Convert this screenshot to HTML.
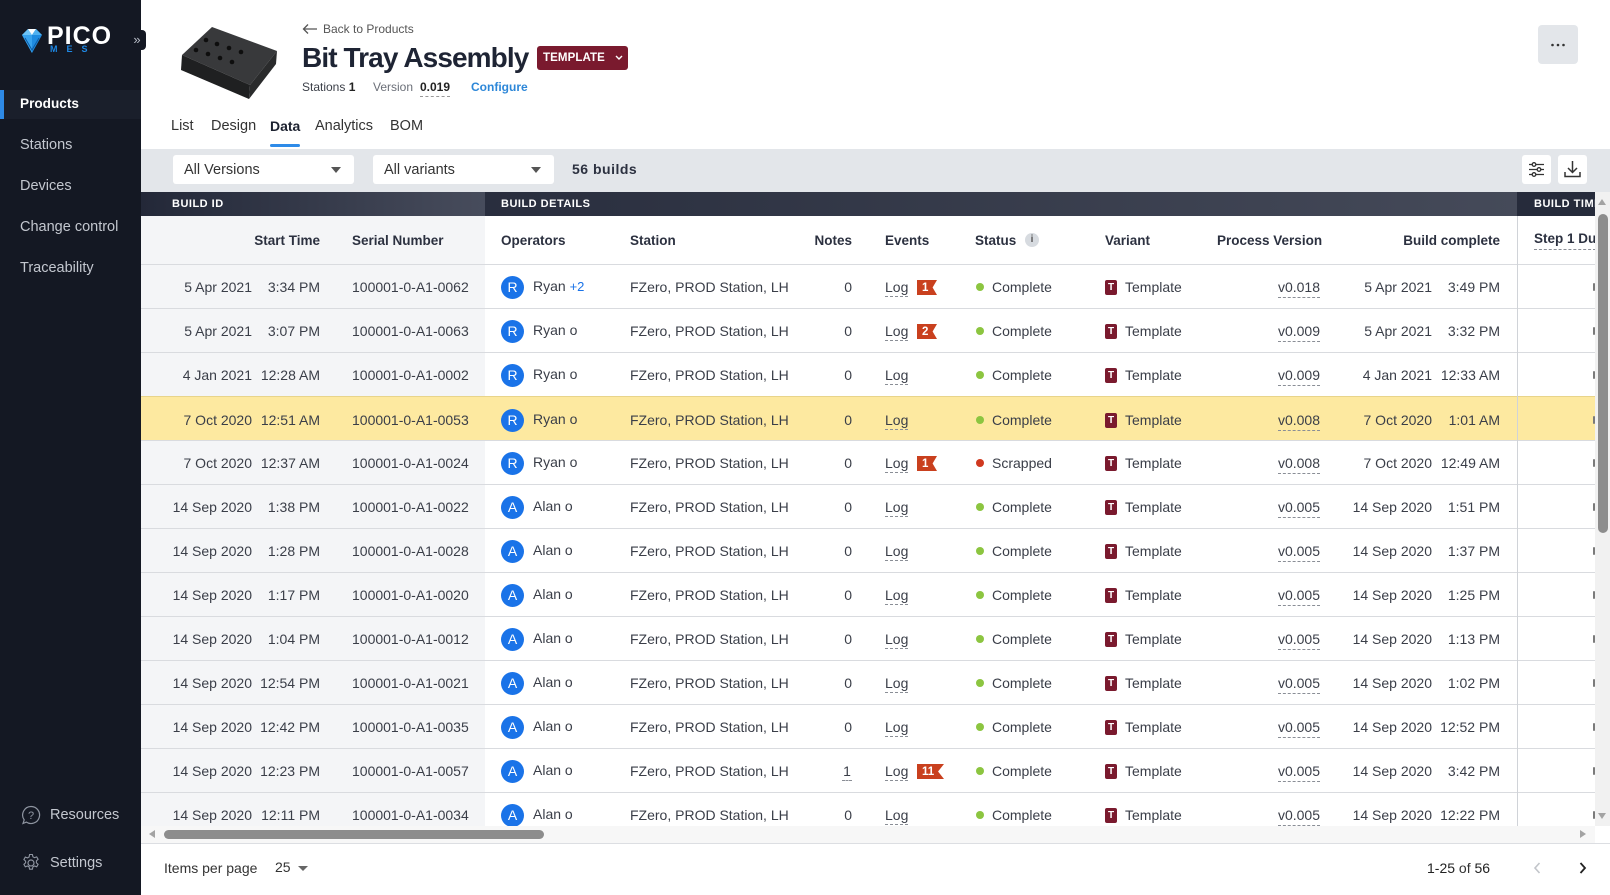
<!DOCTYPE html>
<html><head><meta charset="utf-8">
<style>
*{margin:0;padding:0;box-sizing:border-box}
body{width:1610px;height:895px;overflow:hidden;background:#fff;font-family:"Liberation Sans",Arial,sans-serif;color:#3a3e48;position:relative}
.abs{position:absolute;white-space:nowrap}
#side{position:absolute;left:0;top:0;width:141px;height:895px;background:#141823}
.nav{position:absolute;left:20px;font-size:14.5px;color:#c3c7cf;line-height:20px}
#tbl{position:absolute;left:141px;top:216px;width:1454px;height:610px;overflow:hidden;background:#fff}
.hd{position:absolute;top:0;line-height:49px;font-size:13.5px;font-weight:bold;color:#2c3140;white-space:nowrap}
.r{position:absolute;left:0;width:1454px;height:44px;border-bottom:1px solid #d9dbdf;font-size:14px}
.r>div{position:absolute;top:0;line-height:44px;white-space:nowrap}
.d1{left:0;width:111px;text-align:right}
.t1{left:111px;width:68px;text-align:right}
.sn{left:211px}
.r>.av{left:360px;top:10.5px;width:23px;height:23px;border-radius:50%;background:#1a73e8;color:#fff;font-size:14px;line-height:23px;text-align:center}
.op{left:392px;margin-top:-1px}
.st{left:489px}
.nt{left:661px;width:50px;text-align:right}
.r>.lg{left:744px;top:14px;line-height:16px;padding-bottom:1px;border-bottom:1px dashed #8a8e96}
.r>.bd{left:776px;top:15px;height:15px;width:20px;background:#c9401e;color:#fff;font-size:11.5px;font-weight:bold;line-height:16px;padding-left:5px;clip-path:polygon(0 0,100% 0,78% 50%,100% 100%,0 100%)}
.r>.sd{left:835px;top:18px;width:8px;height:8px;border-radius:50%;background:#8cc540}
.sx{left:851px}
.r>.vi{left:964px;top:14.5px;width:12px;height:15px;border-radius:2px;background:#7a1a2e;color:#fff;font-size:10px;font-weight:bold;line-height:15px;text-align:center}
.vt{left:984px}
.r>.pv{left:1109px;width:70px;top:14px;line-height:16px;text-align:right}
.pv span{border-bottom:1px dashed #8a8e96;padding-bottom:2px;display:inline-block;line-height:16px}
.d2{left:1191px;width:100px;text-align:right}
.t2{left:1291px;width:68px;text-align:right}
.r>.sl{left:1452px;top:18px;width:2px;height:8px;background:#7a7a7a;line-height:8px;border-radius:1px}
.hl{background:#fde9a0;border-top:1px solid #e8d48a}
</style></head><body>

<!-- Sidebar -->
<div id="side">
  <svg class="abs" style="left:20px;top:26px" width="24" height="28" viewBox="0 0 24 28">
    <polygon points="2,9 8,3 16,3 22,9 12,27" fill="#1f8be0"/>
    <polygon points="2,9 8,3 12,9" fill="#6cc4f7"/>
    <polygon points="8,3 16,3 12,9" fill="#fff"/>
    <polygon points="16,3 22,9 12,9" fill="#4fb0ef"/>
    <polygon points="2,9 12,9 12,27" fill="#38a3ee"/>
    <polyline points="5,12 12,24 19,12" fill="none" stroke="#0d5aa3" stroke-width="1"/>
  </svg>
  <div class="abs" style="left:47px;top:22px;font-size:25px;font-weight:bold;color:#fff;line-height:28px;letter-spacing:1px">PICO</div>
  <div class="abs" style="left:50px;top:45px;font-size:9px;font-weight:bold;color:#1e88e5;letter-spacing:9px;line-height:9px">MES</div>
  <div class="abs" style="left:0;top:90px;width:141px;height:29px;background:#1a1f2b"></div>
  <div class="abs" style="left:0;top:90px;width:4px;height:29px;background:#2e8ae6"></div>
  <div class="nav" style="top:94px;color:#fff;font-weight:bold;font-size:13.6px">Products</div>
  <div class="nav" style="top:135px">Stations</div>
  <div class="nav" style="top:176px">Devices</div>
  <div class="nav" style="top:217px">Change control</div>
  <div class="nav" style="top:258px">Traceability</div>
  <svg class="abs" style="left:21px;top:805px" width="20" height="20" viewBox="0 0 20 20"><path d="M10 1.5a8.5 8.5 0 1 1-4.6 15.6L2 18.5l1.2-3.6A8.5 8.5 0 0 1 10 1.5z" fill="none" stroke="#8f95a1" stroke-width="1.2"/><text x="10" y="14" font-size="11" text-anchor="middle" fill="#8f95a1" font-family="Liberation Sans">?</text></svg>
  <div class="nav" style="left:50px;top:805px">Resources</div>
  <svg class="abs" style="left:21px;top:853px" width="20" height="20" viewBox="0 0 20 20"><circle cx="10" cy="10" r="3" fill="none" stroke="#8f95a1" stroke-width="1.2"/><path d="M8.6 1.5h2.8l.5 2.3 1.6.9 2.2-.8 1.4 2.4-1.7 1.6v1.9l1.7 1.6-1.4 2.4-2.2-.8-1.6.9-.5 2.3H8.6l-.5-2.3-1.6-.9-2.2.8-1.4-2.4 1.7-1.6V8.1L2.9 6.5l1.4-2.4 2.2.8 1.6-.9z" fill="none" stroke="#8f95a1" stroke-width="1.1"/></svg>
  <div class="nav" style="left:50px;top:853px">Settings</div>
</div>
<div class="abs" style="left:128px;top:30px;width:18px;height:20px;background:#141823;border-radius:0 4px 4px 0;color:#b9bec8;font-size:13px;line-height:19px;text-align:center">»</div>

<!-- Header -->
<svg class="abs" style="left:176px;top:22px" width="106" height="82" viewBox="176 22 106 82">
  <polygon points="182,55 212,27 277,51 250,85" fill="#38393b"/>
  <polygon points="182,55 250,85 249,99 181,70" fill="#1f2021"/>
  <polygon points="250,85 277,51 276,64 249,99" fill="#2a2b2c"/>
  <g fill="#0e0e0e">
    <circle cx="206" cy="40" r="2.3"/><circle cx="217" cy="44" r="2.3"/><circle cx="229" cy="48" r="2.3"/><circle cx="241" cy="52" r="2.3"/>
    <circle cx="196" cy="50" r="2.3"/><circle cx="208" cy="54" r="2.3"/><circle cx="220" cy="58" r="2.3"/><circle cx="232" cy="62" r="2.3"/>
  </g>
</svg>
<svg class="abs" style="left:302px;top:23px" width="16" height="12" viewBox="0 0 16 12"><path d="M15 6H2M6 1.5 1.5 6 6 10.5" fill="none" stroke="#555" stroke-width="1.3"/></svg>
<div class="abs" style="left:323px;top:22px;font-size:12px;color:#555;line-height:14px">Back to Products</div>
<div class="abs" style="left:302px;top:41px;font-size:28px;font-weight:bold;color:#1e2434;letter-spacing:-0.9px;line-height:34px">Bit Tray Assembly</div>
<div class="abs" style="left:537px;top:46px;width:91px;height:24px;background:#7a1a2e;border-radius:3px;color:#fff;font-size:11.5px;font-weight:bold;line-height:24px;padding-left:6px;letter-spacing:0.1px">TEMPLATE
  <svg style="position:absolute;left:78px;top:9px" width="8" height="6" viewBox="0 0 8 6"><path d="M1 1l3 3 3-3" fill="none" stroke="#fff" stroke-width="1.4"/></svg></div>
<div class="abs" style="left:302px;top:80px;font-size:12px;color:#3b3f48;line-height:14px">Stations <b style="color:#222">1</b></div>
<div class="abs" style="left:373px;top:80px;font-size:12px;color:#6b6f78;line-height:14px">Version</div>
<div class="abs" style="left:420px;top:80px;font-size:12px;color:#222;font-weight:bold;line-height:14px;border-bottom:1px dashed #999;padding-bottom:2px">0.019</div>
<div class="abs" style="left:471px;top:80px;font-size:12px;color:#2d87d8;font-weight:bold;line-height:14px">Configure</div>
<div class="abs" style="left:1538px;top:25px;width:40px;height:39px;background:#e3e6ea;border-radius:4px">
  <svg style="position:absolute;left:12px;top:18px" width="16" height="4" viewBox="0 0 16 4"><circle cx="2.5" cy="2" r="1.3" fill="#333"/><circle cx="8" cy="2" r="1.3" fill="#333"/><circle cx="13.5" cy="2" r="1.3" fill="#333"/></svg></div>

<!-- Tabs -->
<div class="abs" style="left:171px;top:117px;font-size:14.5px;color:#333;line-height:18px">List</div>
<div class="abs" style="left:211px;top:117px;font-size:14.5px;color:#333;line-height:18px">Design</div>
<div class="abs" style="left:270px;top:117px;font-size:14px;color:#1d2230;font-weight:bold;line-height:18px">Data</div>
<div class="abs" style="left:315px;top:117px;font-size:14.5px;color:#333;line-height:18px">Analytics</div>
<div class="abs" style="left:390px;top:117px;font-size:14.5px;color:#333;line-height:18px">BOM</div>
<div class="abs" style="left:270px;top:144px;width:30px;height:3px;background:#2e8be8;border-radius:2px"></div>

<!-- Toolbar -->
<div class="abs" style="left:141px;top:149px;width:1469px;height:43px;background:#e3e6ea"></div>
<div class="abs" style="left:173px;top:155px;width:181px;height:29px;background:#fff;border-radius:3px;font-size:14.5px;color:#333;line-height:30px;padding-left:11px">All Versions
  <div style="position:absolute;left:158px;top:12px;border-left:5px solid transparent;border-right:5px solid transparent;border-top:6px solid #555"></div></div>
<div class="abs" style="left:373px;top:155px;width:181px;height:29px;background:#fff;border-radius:3px;font-size:14.5px;color:#333;line-height:30px;padding-left:11px">All variants
  <div style="position:absolute;left:158px;top:12px;border-left:5px solid transparent;border-right:5px solid transparent;border-top:6px solid #555"></div></div>
<div class="abs" style="left:572px;top:160px;font-size:14px;font-weight:bold;color:#2c3140;letter-spacing:0.5px;line-height:18px">56 builds</div>
<div class="abs" style="left:1522px;top:155px;width:29px;height:29px;background:#fff;border-radius:3px">
  <svg style="position:absolute;left:5px;top:5px" width="19" height="19" viewBox="0 0 19 19" fill="none" stroke="#333" stroke-width="1.3"><path d="M2 4.5h15M2 9.5h15M2 14.5h15"/><circle cx="7" cy="4.5" r="1.8" fill="#fff"/><circle cx="12" cy="9.5" r="1.8" fill="#fff"/><circle cx="7" cy="14.5" r="1.8" fill="#fff"/></svg></div>
<div class="abs" style="left:1558px;top:155px;width:29px;height:29px;background:#fff;border-radius:3px">
  <svg style="position:absolute;left:5px;top:4px" width="19" height="20" viewBox="0 0 19 20" fill="none" stroke="#333" stroke-width="1.5"><path d="M9.5 2v11M5 9l4.5 4.5L14 9M2 13v4.5h15V13"/></svg></div>

<!-- Dark group header -->
<div class="abs" style="left:141px;top:192px;width:344px;height:24px;background:linear-gradient(90deg,#232838,#474c5c)"></div>
<div class="abs" style="left:485px;top:192px;width:1032px;height:24px;background:linear-gradient(90deg,#292e3e,#454a59)"></div>
<div class="abs" style="left:1517px;top:192px;width:78px;height:24px;background:#262b3b"></div>
<div class="abs" style="left:172px;top:192px;font-size:11px;font-weight:bold;color:#fff;letter-spacing:0.5px;line-height:24px">BUILD ID</div>
<div class="abs" style="left:501px;top:192px;font-size:11px;font-weight:bold;color:#fff;letter-spacing:0.5px;line-height:24px">BUILD DETAILS</div>
<div class="abs" style="left:1534px;top:192px;width:61px;overflow:hidden;font-size:11px;font-weight:bold;color:#fff;letter-spacing:0.5px;line-height:24px">BUILD TIME</div>

<!-- Table -->
<div id="tbl">
  <div style="position:absolute;left:0;top:0;width:344px;height:610px;background:#f4f5f7"></div>
  <div style="position:absolute;left:0;top:0;width:1454px;height:49px;border-bottom:1px solid #d9dbdf"></div>
  <div class="hd" style="left:0;width:179px;text-align:right">Start Time</div>
  <div class="hd" style="left:211px">Serial Number</div>
  <div class="hd" style="left:360px">Operators</div>
  <div class="hd" style="left:489px">Station</div>
  <div class="hd" style="left:661px;width:50px;text-align:right">Notes</div>
  <div class="hd" style="left:744px">Events</div>
  <div class="hd" style="left:834px">Status</div>
  <div style="position:absolute;left:884px;top:17px;width:14px;height:14px;border-radius:50%;background:#d7dbe0;color:#555;font-size:10px;font-weight:bold;line-height:14px;text-align:center">i</div>
  <div class="hd" style="left:964px">Variant</div>
  <div class="hd" style="left:1076px">Process Version</div>
  <div class="hd" style="left:1250px;width:109px;text-align:right">Build complete</div>
  <div class="hd" style="left:1393px;top:15px;line-height:16px;border-bottom:1px dashed #8a8e96;padding-bottom:2px">Step 1 Du</div>

  <div class="r" style="top:49px"><div class="d1">5 Apr 2021</div><div class="t1">3:34 PM</div><div class="sn">100001-0-A1-0062</div><div class="av">R</div><div class="op">Ryan <span style="color:#1a73e8;font-size:13px">+2</span></div><div class="st">FZero, PROD Station, LH</div><div class="nt">0</div><div class="lg">Log</div><div class="bd">1</div><div class="sd"></div><div class="sx">Complete</div><div class="vi">T</div><div class="vt">Template</div><div class="pv"><span>v0.018</span></div><div class="d2">5 Apr 2021</div><div class="t2">3:49 PM</div><div class="sl"></div></div>
  <div class="r" style="top:93px"><div class="d1">5 Apr 2021</div><div class="t1">3:07 PM</div><div class="sn">100001-0-A1-0063</div><div class="av">R</div><div class="op">Ryan o</div><div class="st">FZero, PROD Station, LH</div><div class="nt">0</div><div class="lg">Log</div><div class="bd">2</div><div class="sd"></div><div class="sx">Complete</div><div class="vi">T</div><div class="vt">Template</div><div class="pv"><span>v0.009</span></div><div class="d2">5 Apr 2021</div><div class="t2">3:32 PM</div><div class="sl"></div></div>
  <div class="r" style="top:137px"><div class="d1">4 Jan 2021</div><div class="t1">12:28 AM</div><div class="sn">100001-0-A1-0002</div><div class="av">R</div><div class="op">Ryan o</div><div class="st">FZero, PROD Station, LH</div><div class="nt">0</div><div class="lg">Log</div><div class="sd"></div><div class="sx">Complete</div><div class="vi">T</div><div class="vt">Template</div><div class="pv"><span>v0.009</span></div><div class="d2">4 Jan 2021</div><div class="t2">12:33 AM</div><div class="sl"></div></div>
  <div class="r hl" style="top:180px;height:45px"><div class="d1" style="top:1px">7 Oct 2020</div><div class="t1" style="top:1px">12:51 AM</div><div class="sn" style="top:1px">100001-0-A1-0053</div><div class="av" style="top:11.5px">R</div><div class="op" style="top:1px">Ryan o</div><div class="st" style="top:1px">FZero, PROD Station, LH</div><div class="nt" style="top:1px">0</div><div class="lg" style="top:15px">Log</div><div class="sd" style="top:19px"></div><div class="sx" style="top:1px">Complete</div><div class="vi" style="top:15.5px">T</div><div class="vt" style="top:1px">Template</div><div class="pv" style="top:15px"><span>v0.008</span></div><div class="d2" style="top:1px">7 Oct 2020</div><div class="t2" style="top:1px">1:01 AM</div><div class="sl" style="top:19px"></div></div>
  <div class="r" style="top:225px"><div class="d1">7 Oct 2020</div><div class="t1">12:37 AM</div><div class="sn">100001-0-A1-0024</div><div class="av">R</div><div class="op">Ryan o</div><div class="st">FZero, PROD Station, LH</div><div class="nt">0</div><div class="lg">Log</div><div class="bd">1</div><div class="sd" style="background:#d0391f"></div><div class="sx">Scrapped</div><div class="vi">T</div><div class="vt">Template</div><div class="pv"><span>v0.008</span></div><div class="d2">7 Oct 2020</div><div class="t2">12:49 AM</div><div class="sl"></div></div>
  <div class="r" style="top:269px"><div class="d1">14 Sep 2020</div><div class="t1">1:38 PM</div><div class="sn">100001-0-A1-0022</div><div class="av">A</div><div class="op">Alan o</div><div class="st">FZero, PROD Station, LH</div><div class="nt">0</div><div class="lg">Log</div><div class="sd"></div><div class="sx">Complete</div><div class="vi">T</div><div class="vt">Template</div><div class="pv"><span>v0.005</span></div><div class="d2">14 Sep 2020</div><div class="t2">1:51 PM</div><div class="sl"></div></div>
  <div class="r" style="top:313px"><div class="d1">14 Sep 2020</div><div class="t1">1:28 PM</div><div class="sn">100001-0-A1-0028</div><div class="av">A</div><div class="op">Alan o</div><div class="st">FZero, PROD Station, LH</div><div class="nt">0</div><div class="lg">Log</div><div class="sd"></div><div class="sx">Complete</div><div class="vi">T</div><div class="vt">Template</div><div class="pv"><span>v0.005</span></div><div class="d2">14 Sep 2020</div><div class="t2">1:37 PM</div><div class="sl"></div></div>
  <div class="r" style="top:357px"><div class="d1">14 Sep 2020</div><div class="t1">1:17 PM</div><div class="sn">100001-0-A1-0020</div><div class="av">A</div><div class="op">Alan o</div><div class="st">FZero, PROD Station, LH</div><div class="nt">0</div><div class="lg">Log</div><div class="sd"></div><div class="sx">Complete</div><div class="vi">T</div><div class="vt">Template</div><div class="pv"><span>v0.005</span></div><div class="d2">14 Sep 2020</div><div class="t2">1:25 PM</div><div class="sl"></div></div>
  <div class="r" style="top:401px"><div class="d1">14 Sep 2020</div><div class="t1">1:04 PM</div><div class="sn">100001-0-A1-0012</div><div class="av">A</div><div class="op">Alan o</div><div class="st">FZero, PROD Station, LH</div><div class="nt">0</div><div class="lg">Log</div><div class="sd"></div><div class="sx">Complete</div><div class="vi">T</div><div class="vt">Template</div><div class="pv"><span>v0.005</span></div><div class="d2">14 Sep 2020</div><div class="t2">1:13 PM</div><div class="sl"></div></div>
  <div class="r" style="top:445px"><div class="d1">14 Sep 2020</div><div class="t1">12:54 PM</div><div class="sn">100001-0-A1-0021</div><div class="av">A</div><div class="op">Alan o</div><div class="st">FZero, PROD Station, LH</div><div class="nt">0</div><div class="lg">Log</div><div class="sd"></div><div class="sx">Complete</div><div class="vi">T</div><div class="vt">Template</div><div class="pv"><span>v0.005</span></div><div class="d2">14 Sep 2020</div><div class="t2">1:02 PM</div><div class="sl"></div></div>
  <div class="r" style="top:489px"><div class="d1">14 Sep 2020</div><div class="t1">12:42 PM</div><div class="sn">100001-0-A1-0035</div><div class="av">A</div><div class="op">Alan o</div><div class="st">FZero, PROD Station, LH</div><div class="nt">0</div><div class="lg">Log</div><div class="sd"></div><div class="sx">Complete</div><div class="vi">T</div><div class="vt">Template</div><div class="pv"><span>v0.005</span></div><div class="d2">14 Sep 2020</div><div class="t2">12:52 PM</div><div class="sl"></div></div>
  <div class="r" style="top:533px"><div class="d1">14 Sep 2020</div><div class="t1">12:23 PM</div><div class="sn">100001-0-A1-0057</div><div class="av">A</div><div class="op">Alan o</div><div class="st">FZero, PROD Station, LH</div><div class="nt" style="top:14px;line-height:16px;left:701px;width:10px;border-bottom:1px dashed #8a8e96;padding-bottom:1px;text-align:center">1</div><div class="lg">Log</div><div class="bd" style="width:27px">11</div><div class="sd"></div><div class="sx">Complete</div><div class="vi">T</div><div class="vt">Template</div><div class="pv"><span>v0.005</span></div><div class="d2">14 Sep 2020</div><div class="t2">3:42 PM</div><div class="sl"></div></div>
  <div class="r" style="top:577px"><div class="d1">14 Sep 2020</div><div class="t1">12:11 PM</div><div class="sn">100001-0-A1-0034</div><div class="av">A</div><div class="op">Alan o</div><div class="st">FZero, PROD Station, LH</div><div class="nt">0</div><div class="lg">Log</div><div class="sd"></div><div class="sx">Complete</div><div class="vi">T</div><div class="vt">Template</div><div class="pv"><span>v0.005</span></div><div class="d2">14 Sep 2020</div><div class="t2">12:22 PM</div><div class="sl"></div></div>

  <div style="position:absolute;left:1376px;top:0;width:1px;height:610px;background:#d0d3d8"></div>
</div>

<!-- Vertical scrollbar -->
<div class="abs" style="left:1595px;top:192px;width:15px;height:634px;background:#f1f1f1"></div>
<div class="abs" style="left:1598px;top:199px;border-left:4.5px solid transparent;border-right:4.5px solid transparent;border-bottom:6px solid #a3a3a3"></div>
<div class="abs" style="left:1598px;top:214px;width:10px;height:319px;background:#8d8d8d;border-radius:5px"></div>
<div class="abs" style="left:1598px;top:813px;border-left:4.5px solid transparent;border-right:4.5px solid transparent;border-top:6px solid #a3a3a3"></div>

<!-- Horizontal scrollbar -->
<div class="abs" style="left:141px;top:826px;width:1454px;height:17px;background:#f7f7f7"></div>
<div class="abs" style="left:149px;top:830px;border-top:4.5px solid transparent;border-bottom:4.5px solid transparent;border-right:6px solid #a3a3a3"></div>
<div class="abs" style="left:164px;top:830px;width:380px;height:9px;background:#8d8d8d;border-radius:5px"></div>
<div class="abs" style="left:1580px;top:830px;border-top:4.5px solid transparent;border-bottom:4.5px solid transparent;border-left:6px solid #a3a3a3"></div>
<div class="abs" style="left:141px;top:843px;width:1469px;height:1px;background:#dcdee2"></div>

<!-- Footer -->
<div class="abs" style="left:164px;top:859px;font-size:14px;color:#333;line-height:18px">Items per page</div>
<div class="abs" style="left:275px;top:858px;font-size:14px;color:#333;line-height:18px">25</div>
<div class="abs" style="left:298px;top:866px;border-left:5px solid transparent;border-right:5px solid transparent;border-top:5px solid #666"></div>
<div class="abs" style="left:1427px;top:859px;font-size:14px;color:#333;line-height:18px"><span style="color:#222">1-25</span> of <span style="color:#222">56</span></div>
<svg class="abs" style="left:1532px;top:861px" width="10" height="14" viewBox="0 0 10 14"><path d="M7.5 2 3 7l4.5 5" fill="none" stroke="#c2c5ca" stroke-width="1.6"/></svg>
<svg class="abs" style="left:1578px;top:861px" width="10" height="14" viewBox="0 0 10 14"><path d="M2.5 2 7 7l-4.5 5" fill="none" stroke="#222" stroke-width="1.8"/></svg>

</body></html>
